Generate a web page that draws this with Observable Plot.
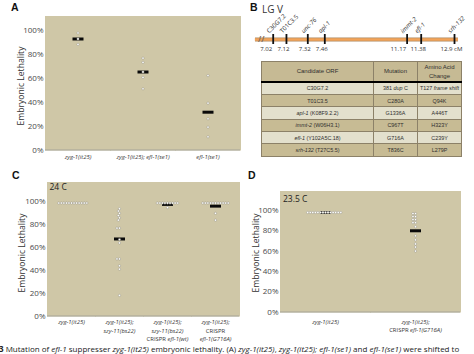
<!DOCTYPE html>
<html>
<head>
<meta charset="utf-8">
<script src="https://cdn.jsdelivr.net/npm/d3@7"></script>
<script src="https://cdn.jsdelivr.net/npm/@observablehq/plot@0.6"></script>
<style>
  html,body{margin:0;padding:0;background:#fff;}
  #fig{position:relative;width:474px;height:354px;overflow:hidden;font-family:"Open Sans",sans-serif;color:#2a2a2a;}
  .box{position:absolute;}
  .letter{position:absolute;font-family:"Liberation Sans",Arial,sans-serif;font-weight:bold;font-size:10.5px;line-height:1;color:#111;}
  .ylab{position:absolute;white-space:nowrap;font-size:8.6px;color:#333;line-height:1;transform:translate(-50%,-50%) rotate(-90deg);}
  table.orf{position:absolute;border-collapse:collapse;font-family:"Liberation Sans",Arial,sans-serif;font-size:5.4px;color:#2e2e2e;table-layout:fixed;border:1px solid #6f6757;}
  table.orf td, table.orf th{border:0.6px solid #8c8168;text-align:center;padding:0;overflow:hidden;white-space:nowrap;}
  table.orf th{font-weight:normal;background:#c6ba94;font-size:6px;line-height:1.35;}
  table.orf tr.hdr{height:20.5px;}
  table.orf tr.hdr th{border-bottom:2.5px solid #000;}
  table.orf tr.l, table.orf tr.d{height:12.4px;}
  table.orf tr.l td{background:#e3e0cd;}
  table.orf tr.d td{background:#c7bb94;}
</style>
</head>
<body>
<div id="fig"></div>
<script>
// ---------------- data ----------------
const yTicks = [0, 20, 40, 60, 80, 100];

// Panel A
const groupsA = ["zyg-1(it25)", "zyg-1(it25); efl-1(se1)", "efl-1(se1)"];
const lethalA = [
  [97.5, 92.5, 88],
  [76.5, 73, 65, 60.5, 51],
  [62, 39, 26, 19, 11]
];
const meanA = [92.5, 65, 31.5];

// Panel B – genetic map of LG V
const chromosome = "LG V";
const lociName = ["C30G7.2", "T01C3.5", "unc-76", "apl-1", "immt-2", "efl-1", "srh-132"];
const lociCM = [7.02, 7.12, 7.32, 7.46, 11.17, 11.38, 12.9];
const lociTick = ["7.02", "7.12", "7.32", "7.46", "11.17", "11.38", "12.9 cM"];
const lociItalic = [false, false, true, true, true, true, true];
const chromExtent = [6.886, 13.08];
const breakAt = 6.93;
// broken (non-proportional) map axis: cM breakpoints and their drawn map units
const mapBreaksCM = [7.02, 7.12, 7.32, 7.46, 11.17, 11.38, 12.9];
const mapBreaksDrawn = [0, 0.113, 0.295, 0.44, 1.142, 1.262, 1.546];

// Panel B – table
const orfGene = [null, null, "apl-1", "immt-2", "efl-1", "srh-132"];
const orfClone = ["C30G7.2", "T01C3.5", "K08F9.2.2", "W06H3.1", "Y102A5C.18", "T27C5.5"];
const orfMutation = ["381 dup C", "C280A", "G1336A", "C967T", "G716A", "T836C"];
const orfAA = ["T127 frame shift", "Q94K", "A446T", "H323Y", "C239Y", "L279P"];

// Panel C
const tempC = "24 C";
const groupsC = ["zyg-1(it25)", "zyg-1(it25);\nszy-11(bs22)", "zyg-1(it25);\nszy-11(bs22)\nCRISPR efl-1(wt)", "zyg-1(it25);\nCRISPR\nefl-1(G716A)"];
const lethalC = [
  [99, 99, 99, 99, 99, 99, 99, 99, 99, 99, 99, 99],
  [94, 92, 90, 88, 86, 84, 77, 77, 67, 64, 50, 50, 44, 41, 18],
  [99, 99, 99, 99, 99, 99, 99, 99, 99, 95],
  [99, 99, 99, 99, 99, 99, 99, 99, 99, 99, 99, 90, 84]
];
const meanC = [null, 67.5, 97.8, 96.3];

// Panel D
const tempD = "23.5 C";
const groupsD = ["zyg-1(it25)", "zyg-1(it25);\nCRISPR efl-1(G716A)"];
const lethalD = [
  [98, 98, 98, 98, 98, 98, 98, 98, 98, 98, 98, 98, 98, 98],
  [97, 97, 94, 94, 91, 91, 88, 88, 84, 75, 71, 67, 64, 60]
];
const meanD = [98, 80];

// ---------------- drawing ----------------
const BG = "#cfc7a7";
const fig = document.getElementById("fig");
const baseStyle = {fontFamily: "'Open Sans', sans-serif", fontSize: "8px", color: "#4a4a4a", background: "transparent", overflow: "visible"};
const barSymbol = {draw(ctx) { ctx.rect(-5.5, -1.5, 11, 3); }};

function place(el, left, top) {
  const d = document.createElement("div");
  d.className = "box";
  d.style.left = left + "px";
  d.style.top = top + "px";
  d.appendChild(el);
  fig.appendChild(d);
  return d;
}
function html(str, cls, css) {
  const d = document.createElement("div");
  if (cls) d.className = cls;
  d.innerHTML = str;
  if (css) d.style.cssText += css;
  fig.appendChild(d);
  return d;
}

function uprightCrispr(svg) {
  svg.querySelectorAll("tspan, text").forEach(node => {
    if (node.children.length) return;
    const t = node.textContent;
    if (!t.startsWith("CRISPR")) return;
    node.textContent = "";
    const up = document.createElementNS("http://www.w3.org/2000/svg", "tspan");
    up.setAttribute("font-style", "normal");
    up.textContent = "CRISPR";
    node.appendChild(up);
    node.appendChild(document.createTextNode(t.slice(6)));
  });
}

function dotPanel(o) {
  const pts = o.groups.flatMap((g, i) => o.values[i].map(v => ({g, v})));
  const bars = o.groups.map((g, i) => ({g, m: o.means[i]})).filter(d => d.m != null);
  const marks = [
    Plot.frame({fill: BG, stroke: BG, strokeWidth: 1}),
    Plot.ruleY([0], {stroke: "#9a9a92", strokeWidth: 0.8}),
    Plot.dot(bars, {fx: "g", y: "m", symbol: barSymbol, fill: "#0a0a0a", stroke: "none"}),
    Plot.dot(pts, Plot.dodgeX({anchor: "middle", padding: 0.25},
      {fx: "g", y: "v", r: 1.15, fill: "#ffffff", stroke: "#8f8c80", strokeWidth: 0.45})),
    Plot.text(o.groups, {fx: d => d, text: d => d, frameAnchor: "bottom", lineAnchor: "top",
      dy: o.labelDy, fontStyle: "italic", fontSize: o.labelSize, lineHeight: 1.4, fill: "#333"})
  ];
  if (o.note) marks.push(Plot.text([{g: o.groups[0], t: o.note}], {fx: "g", text: "t",
    frameAnchor: "top-left", textAnchor: "start", lineAnchor: "top", dx: o.noteDx, dy: o.noteDy,
    fontSize: 8.5, fill: "#222"}));
  const svg = Plot.plot({
    width: o.width, height: o.height,
    marginLeft: o.ml, marginRight: o.mr, marginTop: o.mt, marginBottom: o.mb,
    style: baseStyle,
    fx: {domain: o.groups, padding: 0, axis: null, label: null},
    y: {domain: [0, o.yMax], ticks: yTicks, tickFormat: d => d + "%", tickSize: 0, tickPadding: 2, label: null},
    marks
  });
  uprightCrispr(svg);
  return svg;
}

// Panel A
place(dotPanel({groups: groupsA, values: lethalA, means: meanA, width: 245, height: 170,
  ml: 45, mr: 5, mt: 16, mb: 20.5, yMax: 111.25, labelDy: 3.5, labelSize: 5.9}), 0, 0);

// Panel C
place(dotPanel({groups: groupsC, values: lethalC, means: meanC, width: 245, height: 184,
  ml: 45, mr: 5, mt: 12, mb: 38.5, yMax: 117, labelDy: 2.5, labelSize: 5.9,
  note: tempC, noteDx: 2, noteDy: 1}), 0, 170);

// Panel D
place(dotPanel({groups: groupsD, values: lethalD, means: meanD, width: 244, height: 184,
  ml: 49, mr: 14, mt: 21, mb: 42.5, yMax: 118.7, labelDy: 6, labelSize: 5.9,
  note: tempD, noteDx: 2.5, noteDy: 4}), 230, 170);

// Panel B map
const warp = d3.scaleLinear().domain(mapBreaksCM).range(mapBreaksDrawn);
const leftLabelled = new Set(["7.02", "11.17"]);
const loci = lociName.map((name, i) => ({name, cm: lociCM[i], tick: lociTick[i], italic: lociItalic[i]}));
const track = [{chr: chromosome, a: chromExtent[0], b: chromExtent[1]}];
const geneLabel = {x: "cm", text: "name", rotate: -45, textAnchor: "start", lineAnchor: "bottom",
  frameAnchor: "top", dx: -4, dy: -1, fontSize: 6.2, fill: "#333"};
const cmLabel = {x: "cm", text: "tick", frameAnchor: "bottom", lineAnchor: "top", dy: 2.5, fontSize: 6.1, fill: "#333"};
const mapSvg = Plot.plot({
  width: 244, height: 58, marginTop: 34, marginBottom: 14, marginLeft: 42.7, marginRight: 20,
  style: baseStyle,
  x: {transform: warp, domain: [warp(mapBreaksCM[0]), warp(mapBreaksCM[mapBreaksCM.length - 1])], axis: null},
  y: {type: "point", domain: [chromosome], axis: null},
  marks: [
    Plot.ruleY(track, {y: "chr", x1: "a", x2: "b", stroke: "#ad8a63", strokeWidth: 4.2}),
    Plot.ruleY(track, {y: "chr", x1: "a", x2: "b", stroke: "#f3a358", strokeWidth: 2.6}),
    Plot.text([{chr: chromosome, x: breakAt}], {x: "x", y: "chr", text: () => "//", fontSize: 8, fill: "#86705a", fontWeight: "bold"}),
    Plot.tickX(loci, {x: "cm", stroke: "#111", strokeWidth: 1.8}),
    Plot.text(loci.filter(d => !d.italic), geneLabel),
    Plot.text(loci.filter(d => d.italic), {...geneLabel, fontStyle: "italic"}),
    Plot.text(loci.filter(d => leftLabelled.has(d.tick)), {...cmLabel, textAnchor: "end", dx: -1}),
    Plot.text(loci.filter(d => !leftLabelled.has(d.tick)), {...cmLabel, dx: -3})
  ]
});
place(mapSvg, 230, 0);

// Panel B table
const tbl = document.createElement("table");
tbl.className = "orf";
tbl.style.cssText = "left:261px;top:61px;width:200px;";
let rows = `<colgroup><col style="width:112px"><col style="width:44px"><col style="width:44px"></colgroup>`;
rows += `<tr class="hdr"><th>Candidate ORF</th><th>Mutation</th><th>Amino Acid<br>Change</th></tr>`;
const ital = s => s.replace("dup", "<i>dup</i>").replace("frame shift", "<i>frame shift</i>");
orfClone.forEach((c, i) => {
  const orf = orfGene[i] ? `<i>${orfGene[i]}</i> (${c})` : c;
  rows += `<tr class="${i % 2 ? "d" : "l"}"><td>${orf}</td><td>${ital(orfMutation[i])}</td><td>${ital(orfAA[i])}</td></tr>`;
});
tbl.innerHTML = rows;
fig.appendChild(tbl);

// Labels
html("A", "letter", "left:11px;top:2px;");
html("B", "letter", "left:250px;top:2px;");
html("C", "letter", "left:12px;top:170px;");
html("D", "letter", "left:248px;top:170px;");
html(chromosome, "box", "left:262px;top:4px;font-size:10px;line-height:1;color:#333;");
html("Embryonic Lethality", "ylab", "left:21px;top:86px;");
html("Embryonic Lethality", "ylab", "left:22px;top:253px;");
html("Embryonic Lethality", "ylab", "left:256px;top:253px;");

// Caption
html('<b>3</b> Mutation of <i>efl-1</i> suppresser <i>zyg-1(it25)</i> embryonic lethality. (A) <i>zyg-1(it25)</i>, <i>zyg-1(it25); efl-1(se1)</i> and <i>efl-1(se1)</i> were shifted to',
  "box", "left:-1px;top:344px;white-space:nowrap;font-size:8px;line-height:10px;color:#222;");
</script>
</body>
</html>
